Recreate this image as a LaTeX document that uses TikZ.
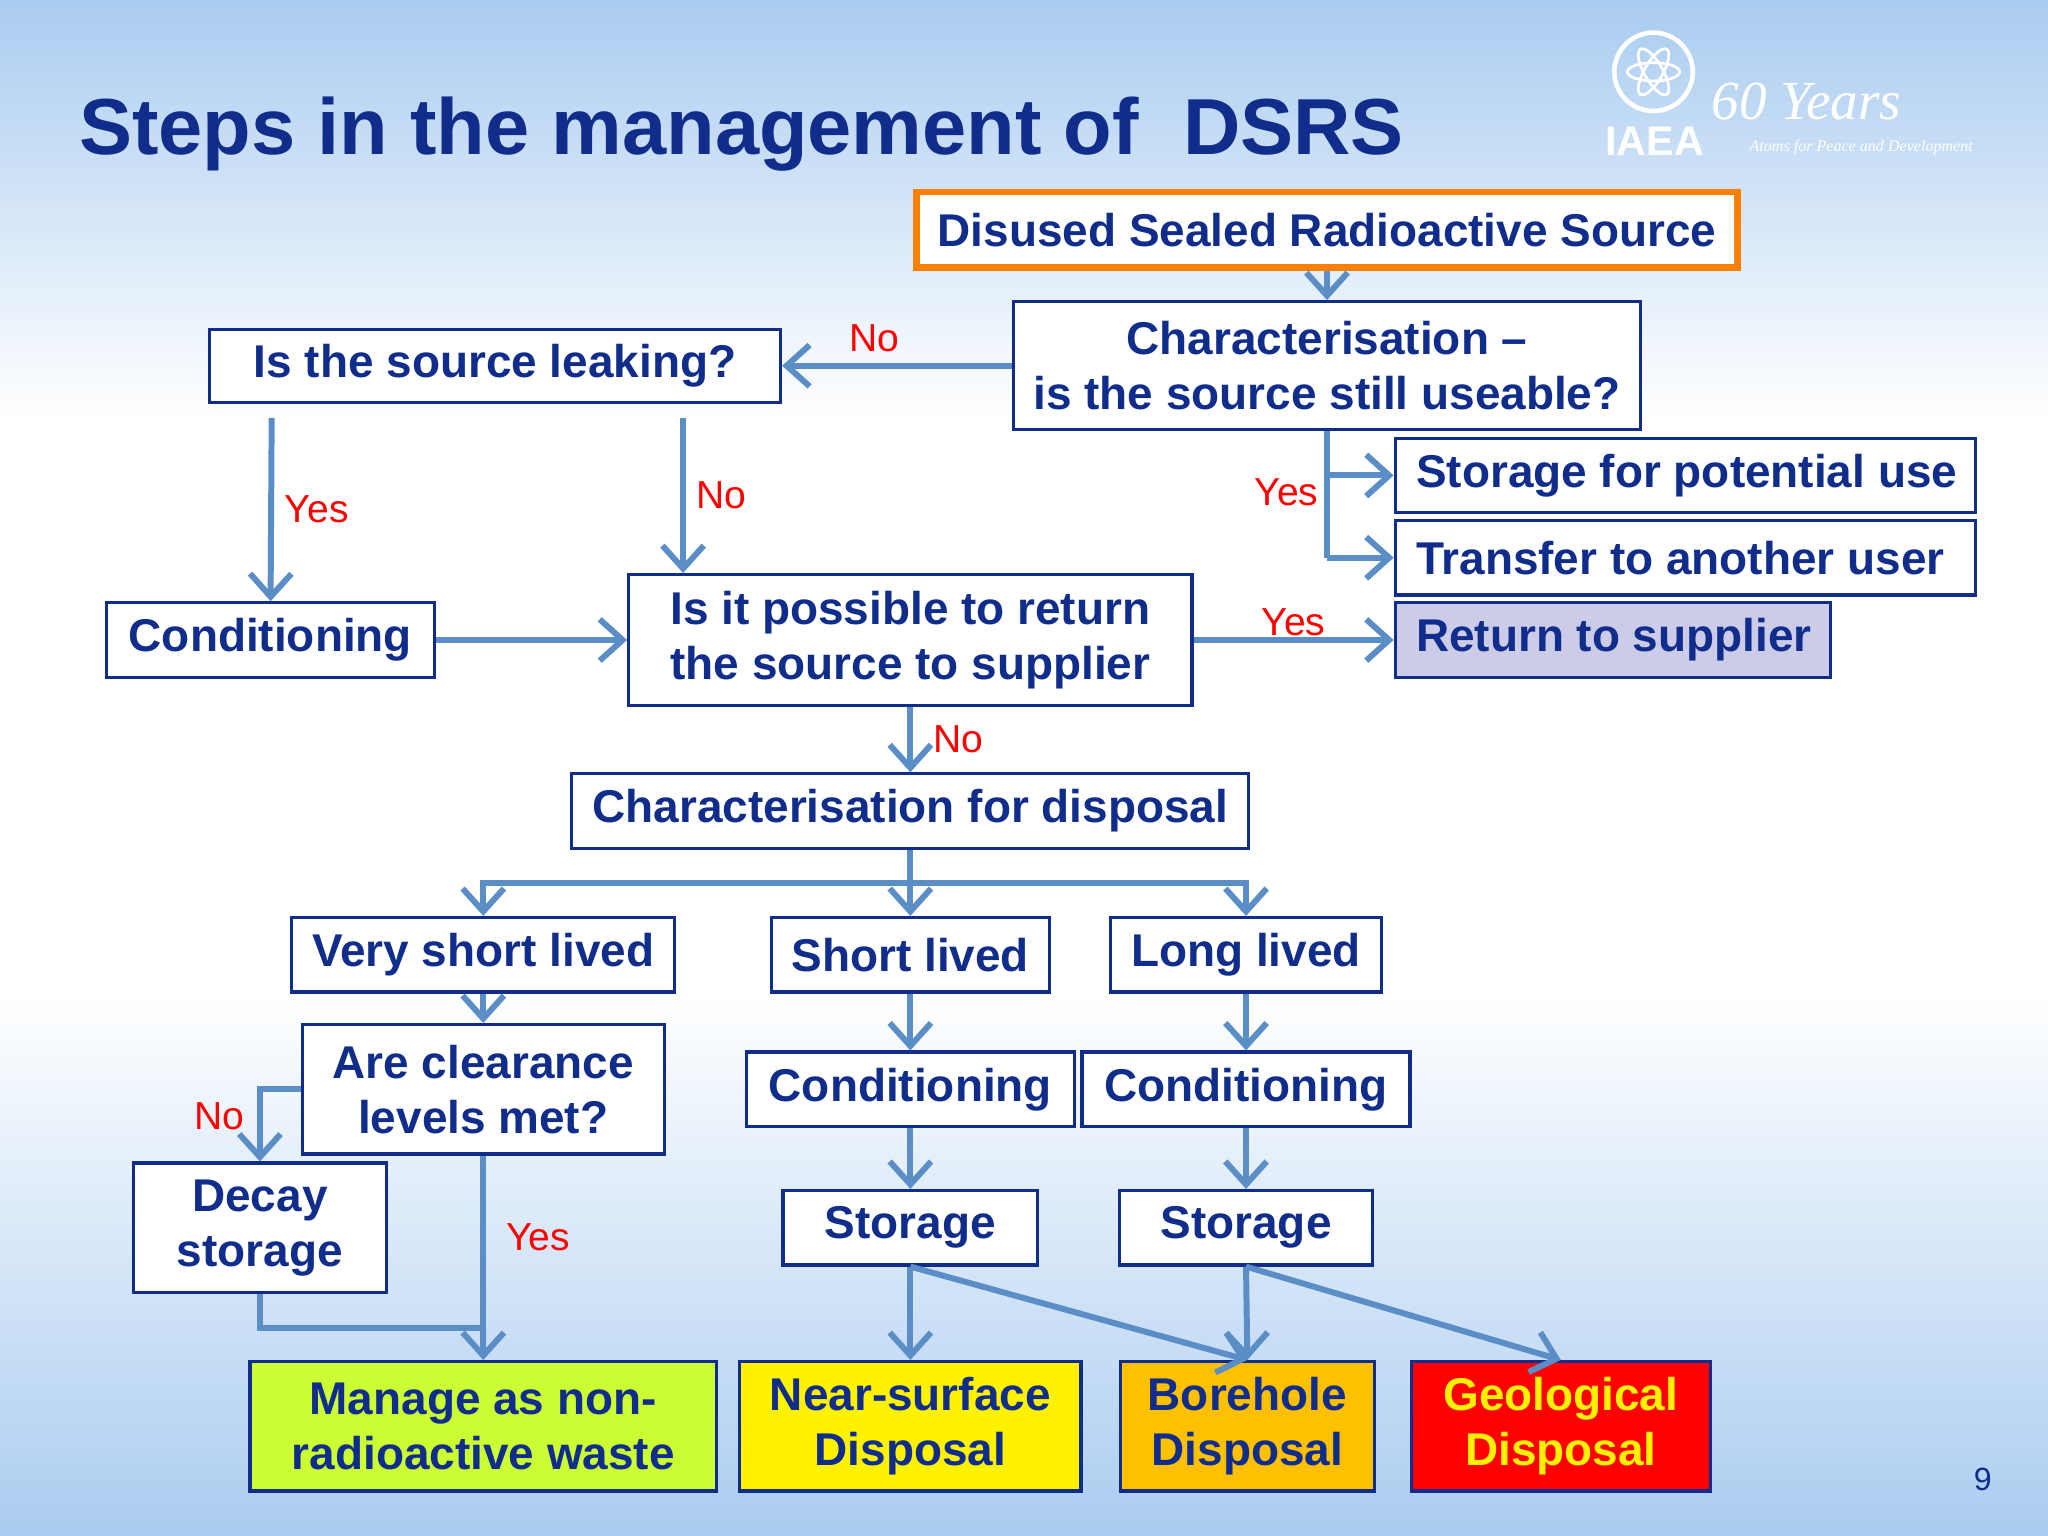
\documentclass[tikz,border=0pt]{standalone}
\usepackage{fontspec}
\setmainfont{Liberation Sans}
\newfontfamily\serifit{Liberation Serif}
\usetikzlibrary{arrows.meta}
\definecolor{tblue}{RGB}{16,45,140}
\definecolor{lblue}{RGB}{91,142,198}
\definecolor{bgb}{RGB}{170,204,240}
\begin{document}
\begin{tikzpicture}[x=0.01cm,y=-0.01cm,
 box/.style={draw=tblue,line width=0.7pt,fill=white,inner sep=0pt,align=center,font=\fontsize{10}{12}\selectfont\bfseries,text=tblue},
 rbox/.style={box,anchor=west,minimum height=0.57cm,inner xsep=0.16cm},
 ar/.style={draw=lblue,line width=1.3pt,-{Straight Barb[length=5pt,width=9pt]}},
 ln/.style={draw=lblue,line width=1.3pt},
 lab/.style={text=red,font=\fontsize{8.5}{10}\selectfont}]
\useasboundingbox (0,0) rectangle (1568,1176);
\shade[top color=bgb,bottom color=white] (0,0) rectangle (1568,320);
\fill[white] (0,320) rectangle (1568,760);
\shade[top color=white,bottom color=bgb] (0,760) rectangle (1568,1176);
\node[anchor=base west,inner sep=0pt,text=tblue,font=\fontsize{17.3}{20}\selectfont\bfseries] (title) at (60,118) {Steps in the management of\ \ DSRS};
\node[text=white,font=\fontsize{9}{10}\selectfont\bfseries] (iaea) at (1267,108) {IAEA};
\node[text=white,font=\fontsize{12}{14}\selectfont\serifit\itshape] (sixty) at (1383,78) {60 Years};
\node[text=white,font=\fontsize{3.5}{5}\selectfont\serifit\itshape] (atoms) at (1425,113) {Atoms for Peace and Development};
\draw[white,line width=1pt] (1266,55) circle (0.3cm);
\draw[white,line width=0.6pt] (1266,55) ellipse (0.2cm and 0.07cm);
\draw[white,line width=0.6pt,rotate around={60:(1266,55)}] (1266,55) ellipse (0.2cm and 0.07cm);
\draw[white,line width=0.6pt,rotate around={-60:(1266,55)}] (1266,55) ellipse (0.2cm and 0.07cm);
\node[text=tblue,font=\fontsize{7}{8}\selectfont] (pg) at (1518,1133) {9};

\node[box,draw=orange,line width=1.5pt,minimum width=6.28cm,minimum height=0.58cm] (dsrs) at (1016,176) {Disused Sealed Radioactive Source};
\node[box,minimum width=4.8cm,minimum height=0.98cm] (char) at (1016,280) {Characterisation --\\is the source still useable?};
\node[box,minimum width=4.37cm,minimum height=0.56cm] (leak) at (379,280) {Is the source leaking?};
\node[rbox] (stor) at (1067,364) {\makebox[4.12cm][l]{Storage for potential use}};
\node[rbox] (trans) at (1067,427) {\makebox[4.12cm][l]{Transfer to another user}};
\node[rbox,fill={rgb,255:red,204;green,204;blue,232}] (ret) at (1067,490) {\makebox[3.01cm][l]{Return to supplier}};
\node[box,minimum width=2.51cm,minimum height=0.57cm] (cond1) at (207,490) {Conditioning};
\node[box,minimum width=4.31cm,minimum height=1.0cm] (poss) at (697,490) {Is it possible to return\\the source to supplier};
\node[box,minimum width=5.18cm,minimum height=0.57cm] (chd) at (697,621) {Characterisation for disposal};
\node[box,minimum width=2.93cm,minimum height=0.57cm] (vs) at (370,731) {Very short lived};
\node[box,minimum width=2.13cm,minimum height=0.57cm] (sl) at (697,731) {Short lived};
\node[box,minimum width=2.07cm,minimum height=0.57cm] (ll) at (954,731) {Long lived};
\node[box,minimum width=2.77cm,minimum height=0.99cm] (clr) at (370,834) {Are clearance\\levels met?};
\node[box,minimum width=2.51cm,minimum height=0.57cm] (cond2) at (697,834) {Conditioning};
\node[box,minimum width=2.51cm,minimum height=0.57cm] (cond3) at (954,834) {Conditioning};
\node[box,minimum width=1.94cm,minimum height=0.99cm] (dec) at (199,940) {Decay\\storage};
\node[box,minimum width=1.95cm,minimum height=0.57cm] (st1) at (697,940) {Storage};
\node[box,minimum width=1.94cm,minimum height=0.57cm] (st2) at (954,940) {Storage};
\node[box,fill={rgb,255:red,204;green,255;blue,51},minimum width=3.57cm,minimum height=0.99cm] (man) at (370,1092) {Manage as non-\\radioactive waste};
\node[box,fill=yellow,minimum width=2.61cm,minimum height=0.99cm] (near) at (697,1092) {Near-surface\\Disposal};
\node[box,fill={rgb,255:red,255;green,192;blue,0},minimum width=1.94cm,minimum height=0.99cm] (bore) at (955,1092) {Borehole\\Disposal};
\node[box,fill=red,text=yellow,minimum width=2.29cm,minimum height=0.99cm] (geo) at (1195,1092) {Geological\\Disposal};

\coordinate (cb) at (1016,427);
\coordinate (l1) at (208,320); \coordinate (l2) at (523,320);
\coordinate (h) at (697,676);
\coordinate (d1) at (199,1017);
\coordinate (c1) at (199,834);

\draw[ar] (dsrs) -- (char);
\draw[ar] (char) -- (leak) node[lab,pos=0.6,above=-1pt] {No};
\draw[ar] (l1) -- (cond1) node[lab,midway,right=-1pt] {Yes};
\draw[ar] (l2) -- (l2|-poss.north) node[lab,midway,right=-1pt] {No};
\draw[ln] (char.south) -- (cb);
\draw[ar] (char.south|-stor) -- (stor);
\draw[ar] (cb) -- (trans);
\node[lab] (y1) at (985,377) {Yes};
\draw[ar] (cond1) -- (poss);
\draw[ar] (poss) -- (ret) node[lab,midway,above=-3pt] {Yes};
\draw[ar] (poss) -- (chd) node[lab,midway,right=1pt] {No};
\draw[ln] (chd.south) -- (h);
\draw[ar] (h) -| (vs);
\draw[ar] (h) -- (sl);
\draw[ar] (h) -| (ll);
\draw[ar] (vs) -- (clr);
\draw[ar] (sl) -- (cond2);
\draw[ar] (ll) -- (cond3);
\draw[ar] (cond2) -- (st1);
\draw[ar] (cond3) -- (st2);
\draw[ar] (clr.west) -- (c1) -- (dec.north);
\node[lab] (n1) at (168,855) {No};
\draw[ar] (clr) -- (man) node[lab,pos=0.4,right=1pt] {Yes};
\draw[ln] (dec.south) -- (d1) -- (d1-|man.north);
\draw[ar] (st1.south) -- (near);
\draw[ar] (st1.south) -- (bore.north);
\draw[ar] (st2.south) -- (bore.north);
\draw[ar] (st2.south) -- (geo.north);
\end{tikzpicture}
\end{document}
